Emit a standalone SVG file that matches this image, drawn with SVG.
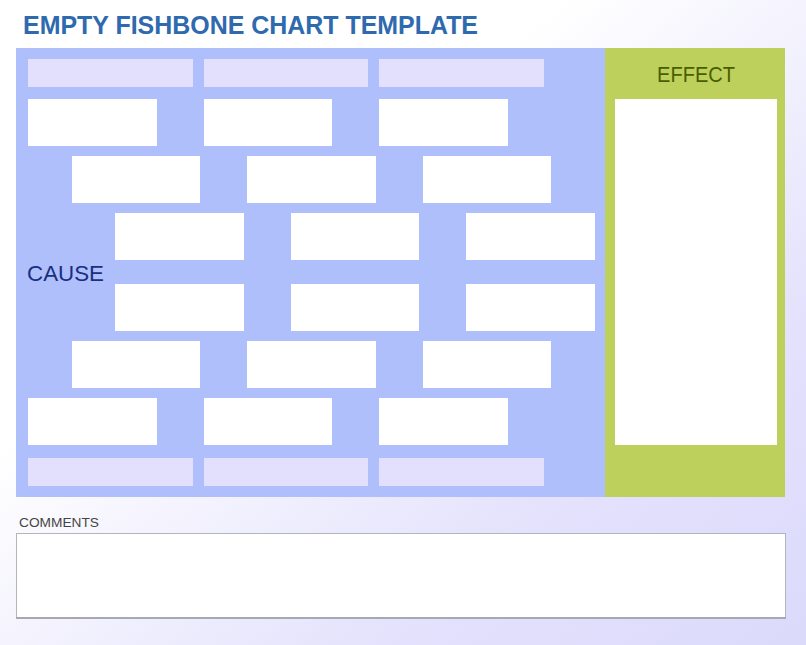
<svg xmlns="http://www.w3.org/2000/svg" width="806" height="645" viewBox="0 0 806 645">
<defs>
<linearGradient id="bg" x1="0" y1="0" x2="1" y2="1">
<stop offset="0.35" stop-color="#ffffff"/>
<stop offset="0.75" stop-color="#e3e1fc"/>
<stop offset="1" stop-color="#dcdafb"/>
</linearGradient>
<style>
.hdr{fill:#e2e0fd}
.box{fill:#ffffff}
.lbl{font-family:"Liberation Sans",Arial,sans-serif}
</style>
</defs>
<rect width="806" height="645" fill="url(#bg)"/>
<text class="lbl" x="23" y="34" font-size="25" font-weight="bold" fill="#2e6aad" textLength="455" lengthAdjust="spacingAndGlyphs">EMPTY FISHBONE CHART TEMPLATE</text>
<g id="cause-panel">
<rect x="16" y="48" width="589" height="449" fill="#afbffc"/>
<text class="lbl" x="27" y="281" font-size="22" fill="#1a2f80" textLength="77" lengthAdjust="spacingAndGlyphs">CAUSE</text>
</g>
<g id="header-top">
<rect class="hdr" x="28" y="59" width="165" height="28"/>
<rect class="hdr" x="204" y="59" width="164" height="28"/>
<rect class="hdr" x="379" y="59" width="165" height="28"/>
</g>
<g id="row1">
<rect class="box" x="28" y="99" width="129" height="47"/>
<rect class="box" x="204" y="99" width="128" height="47"/>
<rect class="box" x="379" y="99" width="129" height="47"/>
</g>
<g id="row2">
<rect class="box" x="72" y="156" width="128" height="47"/>
<rect class="box" x="247" y="156" width="129" height="47"/>
<rect class="box" x="423" y="156" width="128" height="47"/>
</g>
<g id="row3">
<rect class="box" x="115" y="213" width="129" height="47"/>
<rect class="box" x="291" y="213" width="128" height="47"/>
<rect class="box" x="466" y="213" width="129" height="47"/>
</g>
<g id="row4">
<rect class="box" x="115" y="284" width="129" height="47"/>
<rect class="box" x="291" y="284" width="128" height="47"/>
<rect class="box" x="466" y="284" width="129" height="47"/>
</g>
<g id="row5">
<rect class="box" x="72" y="341" width="128" height="47"/>
<rect class="box" x="247" y="341" width="129" height="47"/>
<rect class="box" x="423" y="341" width="128" height="47"/>
</g>
<g id="row6">
<rect class="box" x="28" y="398" width="129" height="47"/>
<rect class="box" x="204" y="398" width="128" height="47"/>
<rect class="box" x="379" y="398" width="129" height="47"/>
</g>
<g id="header-bottom">
<rect class="hdr" x="28" y="458" width="165" height="28"/>
<rect class="hdr" x="204" y="458" width="164" height="28"/>
<rect class="hdr" x="379" y="458" width="165" height="28"/>
</g>
<g id="effect">
<rect x="605" y="48" width="180" height="449" fill="#bdd05b"/>
<text class="lbl" x="696" y="82" font-size="22" fill="#4a5e00" text-anchor="middle" textLength="78" lengthAdjust="spacingAndGlyphs">EFFECT</text>
<rect class="box" x="615" y="99" width="162" height="346"/>
</g>
<g id="connectors"></g>
<g id="comments">
<text class="lbl" x="19" y="527" font-size="12" fill="#444444" textLength="80" lengthAdjust="spacingAndGlyphs">COMMENTS</text>
<rect x="16.5" y="533.5" width="769" height="84" fill="#ffffff" stroke="#b4b4bc" stroke-width="1"/>
<line x1="16" y1="618" x2="786" y2="618" stroke="#a8a8b4" stroke-width="2"/>
</g>
</svg>
